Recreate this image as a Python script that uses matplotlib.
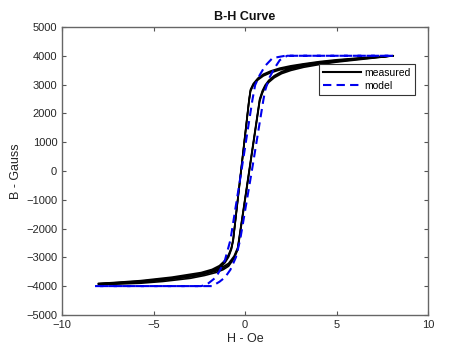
import numpy as np
import matplotlib
matplotlib.use("Agg")
import matplotlib.pyplot as plt

plt.rcParams["font.family"] = ["Liberation Sans", "DejaVu Sans"]

# measured loops: same H grid, three cycles
up_h = [-8.0, -7.0, -5.7, -4.5, -3.0, -2.2, -1.6, -1.2, -0.9, -0.6, -0.4, -0.33,
        0.8, 0.95, 1.1, 1.3, 1.6, 2.0, 2.5, 3.2, 4.1, 5.0, 6.0, 7.0, 8.1]
down_h = [8.1, 7.0, 6.0, 5.0, 4.1, 3.2, 2.5, 1.9, 1.4, 1.0, 0.7, 0.45, 0.3, 0.22,
          -0.65, -0.75, -0.9, -1.1, -1.4, -1.8, -2.4, -3.0, -4.0, -5.7, -7.0, -8.0]

up_b1 = [-3930, -3910, -3870, -3800, -3680, -3580, -3480, -3380, -3260, -3000, -2700, -2400,
         2460, 2750, 2950, 3120, 3280, 3420, 3530, 3640, 3730, 3800, 3870, 3930, 4000]
down_b1 = [4000, 3950, 3900, 3840, 3780, 3700, 3620, 3540, 3440, 3330, 3190, 3000, 2800, 2460,
           -2400, -2700, -2950, -3150, -3330, -3460, -3570, -3630, -3720, -3830, -3880, -3920]

up_b2 = [-3940, -3930, -3900, -3840, -3730, -3630, -3530, -3430, -3310, -3040, -2740, -2440,
         2420, 2710, 2910, 3080, 3240, 3380, 3490, 3600, 3700, 3780, 3850, 3920, 4000]
down_b2 = [4000, 3955, 3910, 3860, 3800, 3720, 3650, 3570, 3470, 3360, 3220, 3030, 2830, 2490,
           -2370, -2670, -2910, -3110, -3290, -3420, -3530, -3590, -3690, -3810, -3870, -3910]

up_b3 = [-3915, -3890, -3850, -3770, -3640, -3540, -3430, -3330, -3210, -2960, -2660, -2360,
         2500, 2790, 2980, 3150, 3310, 3450, 3560, 3670, 3760, 3820, 3890, 3940, 4000]
down_b3 = [4000, 3945, 3890, 3820, 3760, 3680, 3600, 3510, 3410, 3300, 3160, 2970, 2770, 2430,
           -2430, -2730, -2990, -3190, -3370, -3500, -3610, -3670, -3750, -3850, -3895, -3930]

# model loop
model_h = [-8.2, -1.8, -1.4, -1.1, -0.8, -0.5, -0.27, 0.37, 1.0, 1.1, 1.3, 1.6, 1.9, 2.3, 8.1,
           2.2, 1.5, 1.1, 0.8, 0.55, 0.4, -0.2, -0.8, -1.1, -1.4, -1.6, -2.1, -2.4, -8.2]
model_b = [-4000, -4000, -3850, -3700, -3430, -3000, -2400, 0, 2460, 2800, 3200, 3560, 3850, 4000, 4000,
           4000, 3920, 3650, 3330, 2980, 2460, 0, -2400, -3100, -3480, -3700, -3950, -4000, -4000]

fig = plt.figure(figsize=(4.74, 3.55), dpi=100)
ax = fig.add_axes([0.131, 0.113, 0.772, 0.811])

for ub, db in [(up_b1, down_b1), (up_b2, down_b2), (up_b3, down_b3)]:
    ax.plot(up_h + down_h, ub + db, color="black", lw=1.2)
ax.plot([], [], color="black", lw=1.5, label="measured")
ax.plot(model_h, model_b, color="#0000ee", lw=1.5, linestyle=(0, (4, 2.5)), label="model")

ax.set_xlim(-10, 10)
ax.set_ylim(-5000, 5000)
ax.set_xticks([-10, -5, 0, 5, 10])
ax.set_yticks(np.arange(-5000, 5001, 1000))
ax.tick_params(direction="in", top=True, right=True, labelsize=8, length=3,
               width=0.8, colors="#555555", labelcolor="#262626")
for s in ax.spines.values():
    s.set_color("#666666")
    s.set_linewidth(1.0)

ax.set_xlabel("H - Oe", fontsize=9, color="#262626", labelpad=2)
ax.set_ylabel("B - Gauss", fontsize=9, color="#262626", labelpad=3)
ax.set_title("B-H Curve", fontsize=9, fontweight="bold", color="#111111", pad=5)

leg = ax.legend(loc="upper right", bbox_to_anchor=(0.965, 0.872), borderaxespad=0,
                fontsize=7.5, handlelength=3.6, fancybox=False, framealpha=1,
                borderpad=0.4, labelspacing=0.3, handletextpad=0.4)
leg.get_frame().set_edgecolor("#333333")
leg.get_frame().set_linewidth(0.8)

fig.savefig("out.png", dpi=100)
